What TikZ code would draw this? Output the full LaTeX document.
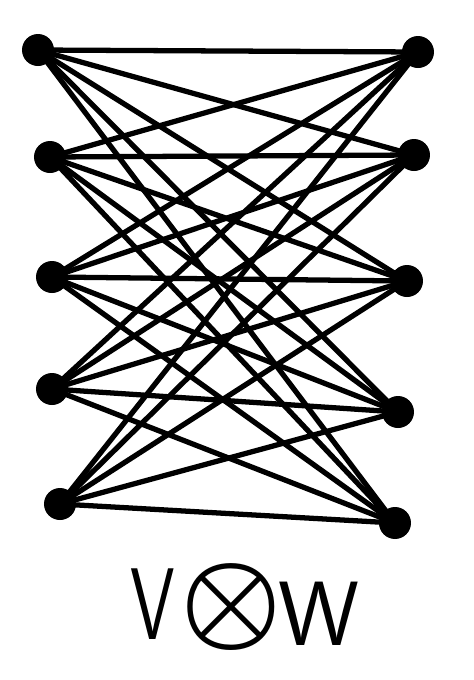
\documentclass[tikz,border=0pt]{standalone}
\usepackage{amsmath}
\begin{document}
\begin{tikzpicture}[line width=1.5pt,line cap=round]
			\useasboundingbox(0,0)rectangle(4.74,6.80);
			\fill(0.38,6.30)coordinate(v1)circle(0.16);
			\fill(0.50,5.23)coordinate(v2)circle(0.16);
			\fill(0.52,4.03)coordinate(v3)circle(0.16);
			\fill(0.52,2.91)coordinate(v4)circle(0.16);
			\fill(0.60,1.76)coordinate(v5)circle(0.16);
			\fill(4.18,6.28)coordinate(w1)circle(0.16);
			\fill(4.14,5.25)coordinate(w2)circle(0.16);
			\fill(4.07,3.99)coordinate(w3)circle(0.16);
			\fill(3.98,2.68)coordinate(w4)circle(0.16);
			\fill(3.95,1.57)coordinate(w5)circle(0.16);
			\foreach\i in{1,...,5}
				\foreach\j in{1,...,5}
					\draw(v\i)--(w\j);
			\node[inner sep=0](lv)at(1.53,0.76){\scalebox{0.7}[1]{\fontsize{29}{31}\selectfont\sffamily V}};
			\node[inner sep=0](tens)at(2.31,0.73){\scalebox{1.3}{\fontsize{28}{30}\selectfont$\boldsymbol{\otimes}$}};
			\node[inner sep=0](lw)at(3.19,0.66){\fontsize{26}{28}\selectfont\sffamily W};
		\end{tikzpicture}
\end{document}
